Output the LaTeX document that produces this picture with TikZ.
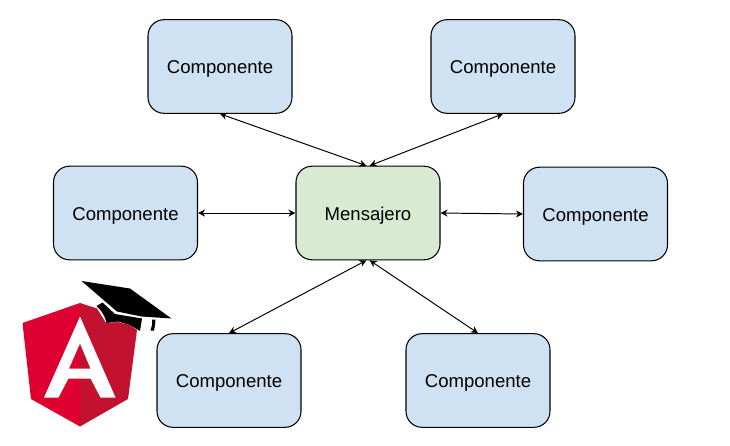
\documentclass[tikz,border=0pt]{standalone}
\usepackage{fontspec}
\setmainfont{Liberation Sans}
\usetikzlibrary{arrows.meta}

\definecolor{compblue}{HTML}{CFE2F3}
\definecolor{msggreen}{HTML}{D9EAD3}
\definecolor{shieldred}{HTML}{DD0031}
\definecolor{shielddark}{HTML}{C3122F}

\tikzset{
  compbox/.style={draw, line width=0.75pt, rounded corners=4mm, fill=compblue,
    minimum width=36mm, minimum height=23.4mm, inner sep=0pt,
    text height=10pt, text depth=0pt, font=\fontsize{13.2}{15}\selectfont},
  msgbox/.style={compbox, fill=msggreen},
  link/.style={{Stealth[length=5pt,width=5pt]}-{Stealth[length=5pt,width=5pt]}, line width=0.7pt},
}

\begin{document}
\begin{tikzpicture}[x=0.25mm, y=-0.25mm]
  \useasboundingbox (0,0) rectangle (730,445);

  % boxes
  \node [compbox] (topleft) at (220,66.5) {Componente};
  \node [compbox] (topright) at (503,66.5) {Componente};
  \node [compbox] (left) at (125.5,213) {Componente};
  \node [msgbox] (msg) at (368,213) {Mensajero};
  \node [compbox] (right) at (595.5,214) {Componente};
  \node [compbox] (botleft) at (229,380.5) {Componente};
  \node [compbox] (botright) at (478,380.5) {Componente};

  % links
  \draw [link] (topleft.south) -- (msg.92);
  \draw [link] (topright.south) -- (msg.88);
  \draw [link] (left.east) -- (msg.west);
  \draw [link] (msg.east) -- (right.west);
  \draw [link] (botleft.north) -- (msg.268);
  \draw [link] (botright.north) -- (msg.272);

  % shield
  \fill [shieldred] (80,303) -- (22.5,323) -- (31,399) -- (80,426.5) -- cycle;
  \fill [shielddark] (80,303) -- (97,308.5) -- (106,323) -- (118,322) -- (130,325) -- (137,330)
    -- (128,399) -- (80,426.5) -- cycle;
  \fill [white, even odd rule] (80,316.5) -- (44,397.5) -- (58.5,397.5) -- (68.5,378.5) -- (90.5,378.5)
    -- (100.5,397.5) -- (115.5,397.5) -- cycle
    (80,343.5) -- (69,368.5) -- (90.5,368.5) -- cycle;

  % cap
  \fill [black] (81.5,281) -- (130,288.5) -- (171.5,318.5) -- (141.5,316.5) -- (117,311.5) -- cycle;
  \fill [black] (96.5,306) -- (102.5,302.5) -- (115,314) -- (142,318.5) -- (140,331)
    -- (130,325) -- (118,321.5) -- (106.5,323) .. controls (105,316) and (102,311) .. (96.5,306) -- cycle;
  \fill [black] (152,319.5) -- (155.5,319.5) -- (155,325) -- (154,330.5) -- (150.5,330.5) -- (152,325) -- cycle;
\end{tikzpicture}
\end{document}
